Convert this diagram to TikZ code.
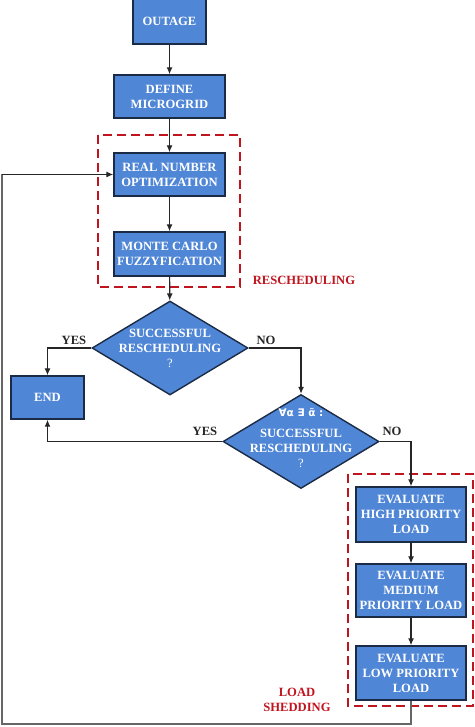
\documentclass[tikz,border=0pt]{standalone}
\usepackage{fontspec}
\setmainfont{Liberation Serif}
\newfontfamily\symfont{DejaVu Sans}
\usetikzlibrary{shapes.geometric,arrows.meta}
\definecolor{boxblue}{HTML}{4F86D6}
\definecolor{boxedge}{HTML}{1C2B45}
\definecolor{dred}{HTML}{C0141E}
\tikzset{
  blk/.style={draw=boxedge,line width=1.4pt,fill=boxblue,text=white,font=\bfseries\fontsize{12.6}{15}\selectfont,align=center,inner sep=0pt},
  dec/.style={draw=boxedge,line width=1.4pt,fill=boxblue,diamond,aspect=1.66,inner sep=0pt,minimum width=156pt,minimum height=94pt},
  dectext/.style={text=white,font=\bfseries\fontsize{12.6}{15}\selectfont,align=center,inner sep=0pt},
  conn/.style={draw=black!85,line width=1.2pt,-{Latex[length=7pt,width=6pt]}},
  plain/.style={draw=black!85,line width=1.2pt},
  grp/.style={draw=dred,line width=1.5pt,dash pattern=on 9pt off 5pt},
  lbl/.style={font=\bfseries\fontsize{12.6}{15}\selectfont,text=black!85},
  rlbl/.style={font=\bfseries\fontsize{12.6}{15}\selectfont,text=dred,align=center}
}
\begin{document}
\begin{tikzpicture}[x=1pt,y=-1pt]
\useasboundingbox (0,0) rectangle (474,727);
% groups
\draw[grp] (98,135) rectangle (240,287);
\draw[grp] (348,474) rectangle (473,706);
% nodes
\node[blk,minimum width=73pt,minimum height=46pt] (out) at (169.5,21) {OUTAGE};
\node[blk,minimum width=111pt,minimum height=43pt] (def) at (169.5,96.5) {DEFINE\\MICROGRID};
\node[blk,minimum width=111pt,minimum height=43pt] (rno) at (169.5,174.5) {REAL NUMBER\\OPTIMIZATION};
\node[blk,minimum width=111pt,minimum height=44pt] (mcf) at (169.5,254) {MONTE CARLO\\FUZZYFICATION};
\node[dec,label={[dectext]center:{SUCCESSFUL\\RESCHEDULING\\{\mdseries ?}}}] (d1) at (170,348) {};
\node[blk,minimum width=73pt,minimum height=43pt] (end) at (47.5,397.5) {END};
\node[dec,label={[dectext,yshift=3pt]center:{{\symfont\bfseries\fontsize{10.5}{13}\selectfont ∀α ∃ ᾶ :}\\[6pt]SUCCESSFUL\\RESCHEDULING\\{\mdseries ?}}}] (d2) at (301,441.5) {};
\node[blk,minimum width=110pt,minimum height=55pt] (hi) at (411,514.5) {EVALUATE\\HIGH PRIORITY\\LOAD};
\node[blk,minimum width=110pt,minimum height=53pt] (me) at (411,590.5) {EVALUATE\\MEDIUM\\PRIORITY LOAD};
\node[blk,minimum width=110pt,minimum height=54pt] (lo) at (411,673) {EVALUATE\\LOW PRIORITY\\LOAD};
% labels
\node[rlbl] (rl) at (304,280) {RESCHEDULING};
\node[rlbl] (ll) at (297,700) {LOAD\\SHEDDING};
\node[lbl] (y1) at (74,340) {YES};
\node[lbl] (n1) at (266,340) {NO};
\node[lbl] (y2) at (205,431) {YES};
\node[lbl] (n2) at (392,431) {NO};
% connectors
\draw[conn] (out) -- (def);
\draw[conn] (def) -- (rno);
\draw[conn] (rno) -- (mcf);
\draw[conn] (mcf) -- (d1);
\draw[conn] (d1.west) -| (end.north);
\draw[conn] (d1.east) -| (d2.north);
\draw[conn] (d2.west) -| (end.south);
\draw[conn] (d2.east) -| (hi.north);
\draw[conn] (hi) -- (me);
\draw[conn] (me) -- (lo);
\coordinate (c1) at (411,724);
\coordinate (c2) at (2,724);
\coordinate (c3) at (2,174.5);
\draw[plain,draw=black!60,line width=2pt] (lo.south) -- (c1) -- (c2) -- (c3);
\draw[conn] (c3) -- (rno.west);
\end{tikzpicture}
\end{document}
